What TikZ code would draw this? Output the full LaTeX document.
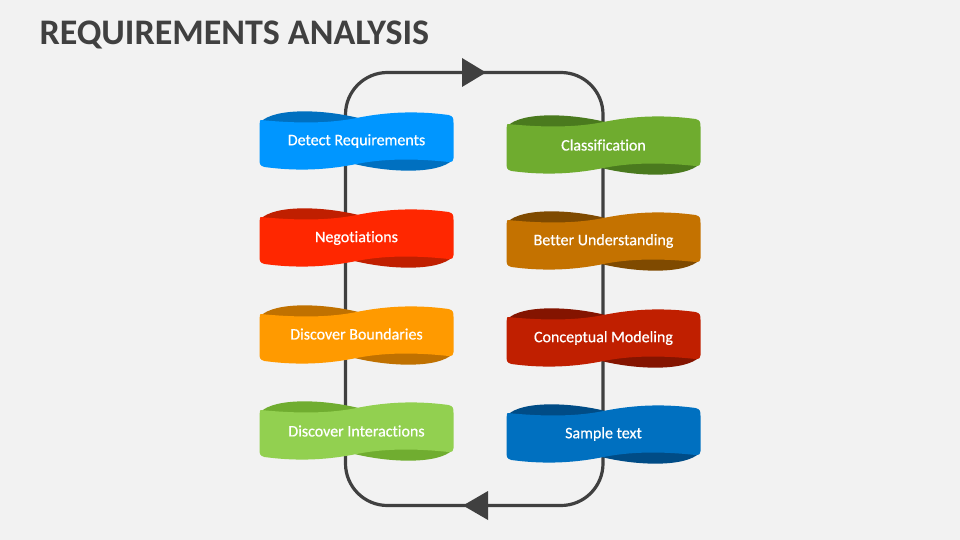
\documentclass[tikz,border=0pt]{standalone}
\usepackage{fontspec}
\setmainfont{Carlito}[Ligatures=NoCommon]
\newfontfamily\lblfont{Carlito}[Ligatures=NoCommon,FakeBold=0.6]
\definecolor{bg}{HTML}{F2F2F2}
\definecolor{loopcol}{HTML}{404040}
\definecolor{detectF}{HTML}{0096FF}\definecolor{detectB}{HTML}{0070C0}
\definecolor{negoF}{HTML}{FF2700}\definecolor{negoB}{HTML}{C01F00}
\definecolor{boundF}{HTML}{FF9A00}\definecolor{boundB}{HTML}{C07100}
\definecolor{interF}{HTML}{92D050}\definecolor{interB}{HTML}{70AD30}
\definecolor{classF}{HTML}{6FAC2F}\definecolor{classB}{HTML}{4A7A1E}
\definecolor{betterF}{HTML}{C47200}\definecolor{betterB}{HTML}{7F4A00}
\definecolor{conceptF}{HTML}{C01F00}\definecolor{conceptB}{HTML}{841400}
\definecolor{sampleF}{HTML}{0070C0}\definecolor{sampleB}{HTML}{004C86}
%% one twisted ribbon: x, y, front colour, back colour
\newcommand{\ribbonbox}[4]{%
  \begin{scope}[shift={(#1,#2)}]
    \fill[#4] (-96,-19) .. controls (-82,-33) and (-35,-32) .. (2,-23) -- (0,0) -- (-96,0) -- cycle;
    \fill[#4] (96,19) .. controls (82,33) and (35,32) .. (-2,23) -- (0,0) -- (96,0) -- cycle;
    \fill[#3] (-96,-21) .. controls (-55,-17) and (-25,-18) .. (0,-23)
      .. controls (25,-28) and (55,-31) .. (92,-26) .. controls (97,-25) and (97,-22) .. (97,-18)
      -- (97,17) .. controls (97,20) and (96,21) .. (92,21)
      .. controls (55,17) and (25,18) .. (0,23)
      .. controls (-25,28) and (-55,31) .. (-92,26) .. controls (-97,25) and (-97,22) .. (-97,18)
      -- (-97,-16) .. controls (-97,-19) and (-96,-21) .. cycle;
  \end{scope}}
\begin{document}
\begin{tikzpicture}[x=1pt,y=-1pt,
    lbl/.style={text=white,font=\lblfont\fontsize{16}{19}\selectfont},
    loopline/.style={loopcol,line width=3.2pt}]
  \useasboundingbox[fill=bg] (0,0) rectangle (960,540);
  %% title
  \node[anchor=west,text=loopcol,font=\fontsize{36}{42}\selectfont\bfseries] (title) at (36,35) {REQUIREMENTS ANALYSIS};
  %% loop with its two arrows
  \draw[loopline,rounded corners=42] (345.5,72.5) rectangle (603,505.5);
  \fill[loopcol] (462,58) -- (486,72.5) -- (462,87) -- cycle;
  \fill[loopcol] (488,491) -- (463,505.5) -- (488,520) -- cycle;
  %% left column
  \ribbonbox{356.5}{141}{detectF}{detectB}
  \ribbonbox{356.5}{238}{negoF}{negoB}
  \ribbonbox{356.5}{335}{boundF}{boundB}
  \ribbonbox{356.5}{431}{interF}{interB}
  \node[lbl] (detect) at (356.5,141) {Detect Requirements};
  \node[lbl] (nego) at (356.5,238) {Negotiations};
  \node[lbl] (bound) at (356.5,334) {Discover Boundaries};
  \node[lbl] (inter) at (356.5,431) {Discover Interactions};
  %% right column
  \ribbonbox{603.5}{145}{classF}{classB}
  \ribbonbox{603.5}{241}{betterF}{betterB}
  \ribbonbox{603.5}{338}{conceptF}{conceptB}
  \ribbonbox{603.5}{434}{sampleF}{sampleB}
  \node[lbl] (class) at (603.5,145) {Classification};
  \node[lbl] (better) at (603.5,241) {Better Understanding};
  \node[lbl] (concept) at (603.5,338) {Conceptual Modeling};
  \node[lbl] (sample) at (603.5,434) {Sample text};
\end{tikzpicture}
\end{document}
